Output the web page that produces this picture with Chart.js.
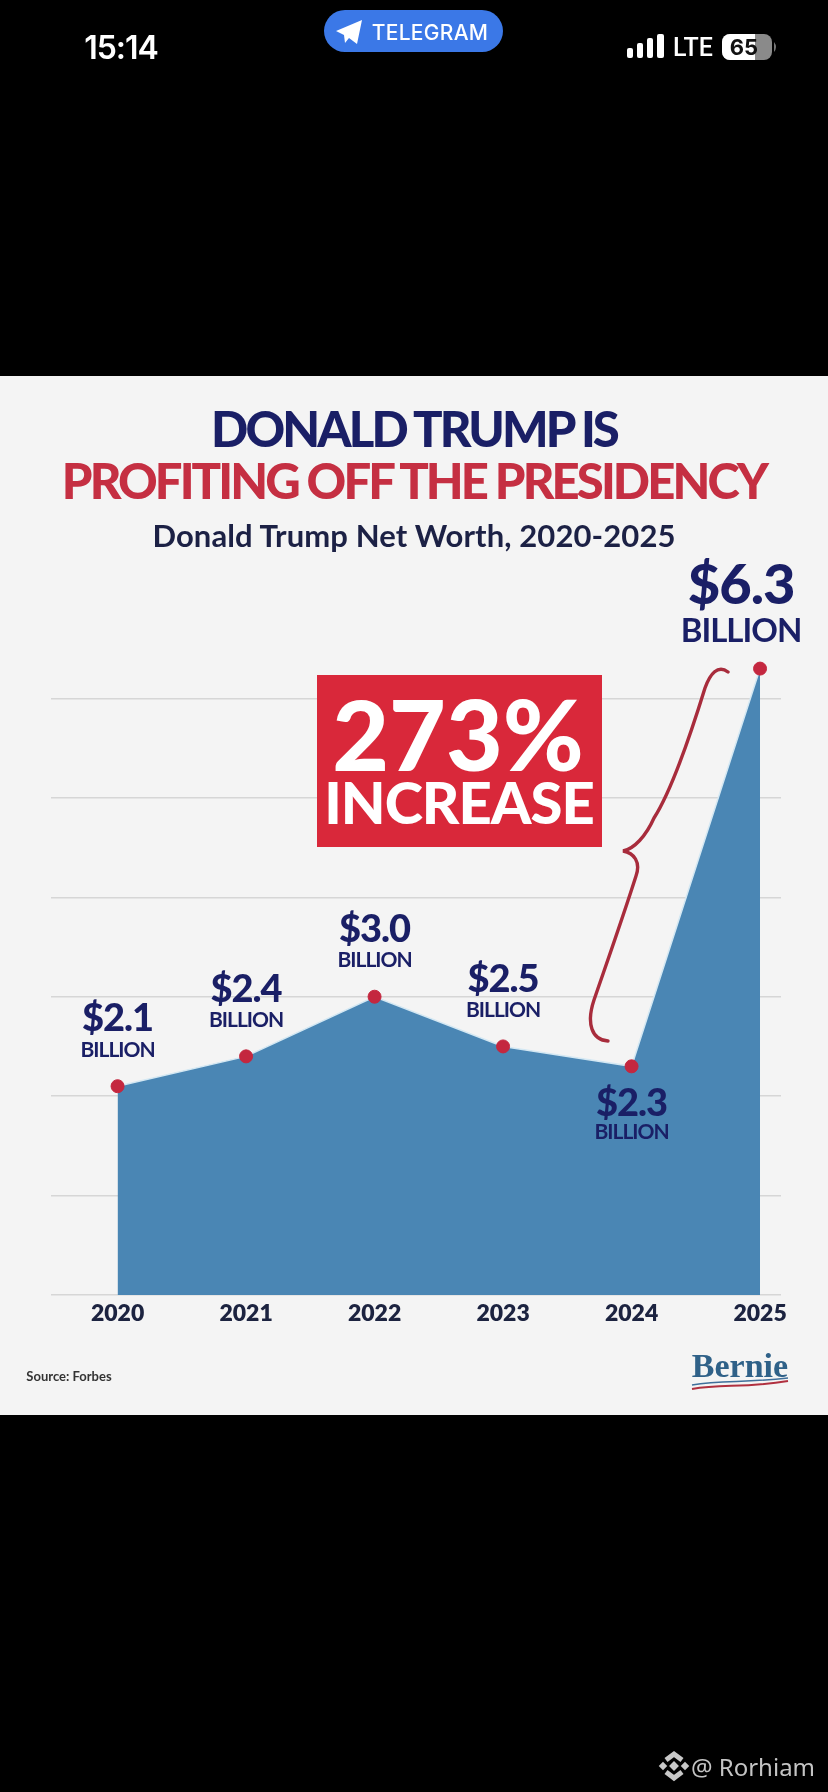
<!DOCTYPE html>
<html><head><meta charset="utf-8">
<script src="https://cdn.jsdelivr.net/npm/chart.js@4"></script>
<style>
html,body{margin:0;padding:0;background:#000;width:828px;height:1792px;overflow:hidden}
#wrap{position:absolute;left:0;top:0;width:828px;height:1792px;filter:blur(.6px)}
#panel{position:absolute;left:0;top:376px;width:828px;height:1039px;background:#f4f4f4}
canvas{position:absolute;left:0;top:0}
.t{position:absolute;white-space:nowrap;transform:translate(-50%,-50%);font-family:Lato,sans-serif;line-height:1}
svg{position:absolute;left:0;top:0}
</style></head><body>
<div id="wrap">
<div id="panel"></div>
<canvas id="c" width="828" height="1792"></canvas>
<svg width="828" height="1792" viewBox="0 0 828 1792">
  <path d="M728 672 C718 664 710 674 705 688 C692 730 672 790 654 818 C646 836 634 849 623 851 C634 853 641 862 636 876 C622 920 606 965 594 1000 C586 1024 592 1040 608 1041" fill="none" stroke="#a82c3c" stroke-width="3.4" stroke-linecap="round"/>
  <rect x="317" y="675" width="285" height="172" fill="#d9283a"/>
  <rect x="324" y="10" width="179" height="42" rx="21" fill="#3b78e7"/>
  <path d="M336 31 L362 20 L357 44 L349 38 L345 43 L344 35 Z" fill="#fff"/>
  <rect x="627" y="48" width="6" height="10" rx="2" fill="#fff"/><rect x="637" y="43" width="6" height="15" rx="2" fill="#fff"/><rect x="647" y="38" width="6" height="20" rx="2" fill="#fff"/><rect x="657" y="34" width="7" height="24" rx="2" fill="#fff"/>
  <rect x="722" y="34" width="50" height="26" rx="8" fill="#8a8a8a"/>
  <path d="M730 34 H755 V60 H730 A8 8 0 0 1 722 52 V42 A8 8 0 0 1 730 34Z" fill="#fff"/>
  <path d="M774 42 Q778 47 774 52Z" fill="#777"/>
  <path d="M692 1385 C722 1380 745 1383 788 1378" fill="none" stroke="#3f6f9a" stroke-width="1.5"/>
  <path d="M692 1389 C722 1384 745 1388 788 1381" fill="none" stroke="#b0303f" stroke-width="2"/>
  <g fill="none" stroke="#c8c8c8" stroke-width="5" transform="translate(674,1766)">
    <path d="M-8 -6 L0 -12 L8 -6"/>
    <path d="M-8 6 L0 12 L8 6"/>
  </g>
  <g fill="#c8c8c8" transform="translate(674,1766)">
    <rect x="-3.5" y="-3.5" width="7" height="7" transform="rotate(45)"/>
    <rect x="-3" y="-3" width="6" height="6" transform="translate(-11,0) rotate(45)"/>
    <rect x="-3" y="-3" width="6" height="6" transform="translate(11,0) rotate(45)"/>
  </g>
</svg>
<div class="t" style="left:121px;top:47px;font:600 32px Inter,sans-serif;letter-spacing:-1px;color:#fff">15:14</div>
<div class="t" style="left:430px;top:32px;font:500 21px Inter,sans-serif;color:#fff;letter-spacing:.3px">TELEGRAM</div>
<div class="t" style="left:693px;top:47px;font:500 25px Roboto,sans-serif;color:#fff">LTE</div>
<div class="t" style="left:744px;top:47px;font:700 22px Inter,sans-serif;color:#111">65</div>
<div class="t" style="left:414px;top:428px;font-weight:900;font-size:49px;color:#1a1f66;letter-spacing:-2.9px">DONALD TRUMP IS</div>
<div class="t" style="left:414px;top:480px;font-weight:900;font-size:49px;color:#c52f42;letter-spacing:-2.9px">PROFITING OFF THE PRESIDENCY</div>
<div class="t" style="left:414px;top:535px;font-weight:700;font-size:31px;color:#1c2145;letter-spacing:.1px">Donald Trump Net Worth, 2020-2025</div>
<div class="t" style="left:458px;top:733px;font-weight:900;font-size:98px;color:#fff">273%</div>
<div class="t" style="left:459px;top:802px;font-weight:900;font-size:58px;color:#fff;letter-spacing:-1px">INCREASE</div>
<div class="t" style="left:69px;top:1376px;font-weight:700;font-size:13px;color:#333">Source: Forbes</div>
<div class="t" style="left:740px;top:1366px;font:700 34px 'Liberation Serif',serif;color:#2f6188">Bernie</div>
<div class="t" style="left:753px;top:1766px;font:400 24px 'Noto Sans',sans-serif;color:#c4c4c4">@ Rorhiam</div>
</div>
<script>
const years = [2020, 2021, 2022, 2023, 2024, 2025];
const netWorth = [2.1, 2.4, 3.0, 2.5, 2.3, 6.3];
const yTicks = [0, 1, 2, 3, 4, 5, 6];

const valueLabels = {
  id: 'valueLabels',
  afterDatasetsDraw(chart) {
    const ctx = chart.ctx, xs = chart.scales.x, ys = chart.scales.y;
    ctx.save();
    ctx.textAlign = 'center'; ctx.textBaseline = 'middle'; ctx.fillStyle = '#1a1f66';
    netWorth.forEach((v, i) => {
      const x = xs.getPixelForValue(years[i]), y = ys.getPixelForValue(v);
      const last = i === netWorth.length - 1, below = i === 4;
      const d1 = last ? -83 : below ? 37 : -67, d2 = last ? -37 : below ? 66 : -36;
      const dx = last ? -19 : 0;
      ctx.font = `900 ${last ? 56 : 38}px Lato, sans-serif`;
      ctx.letterSpacing = '-1px';
      ctx.fillText('$' + v.toFixed(1), x + dx, y + d1);
      ctx.font = `700 ${last ? 33 : 21}px Lato, sans-serif`;
      ctx.fillText('BILLION', x + dx, y + d2);
    });
    ctx.restore();
  }
};

new Chart(document.getElementById('c'), {
  type: 'line',
  data: { datasets: [{
    data: years.map((y, i) => ({ x: y, y: netWorth[i] })),
    fill: 'origin', backgroundColor: '#4a86b4',
    borderColor: '#d4e8f3', borderWidth: 1.5, tension: 0,
    pointRadius: 6.5, pointBackgroundColor: '#c4273f', pointBorderColor: '#c4273f', pointBorderWidth: 1
  }]},
  options: {
    responsive: false, animation: false,
    layout: { padding: { left: 51, right: 47, top: 599, bottom: 457 } },
    plugins: { legend: { display: false }, tooltip: { enabled: false }, title: { display: false } },
    scales: {
      x: {
        type: 'linear', min: 2019.482, max: 2025.163,
        grid: { display: false }, border: { display: false },
        afterBuildTicks(s) { s.ticks = years.map(v => ({ value: v })); },
        afterFit(s) { s.height = 40; },
        ticks: { autoSkip: false, maxRotation: 0, padding: -3, color: '#1c2340',
          font: { family: 'Lato, sans-serif', size: 23, weight: '800' },
          callback: v => String(v) }
      },
      y: {
        min: 0, max: 7,
        afterBuildTicks(s) { s.ticks = yTicks.map(v => ({ value: v })); },
        afterFit(s) { s.width = 0; },
        grid: { color: '#d6d6d6', lineWidth: 1.5, drawTicks: false }, border: { display: false },
        ticks: { display: false }
      }
    }
  },
  plugins: [valueLabels]
});
</script>
</body></html>
